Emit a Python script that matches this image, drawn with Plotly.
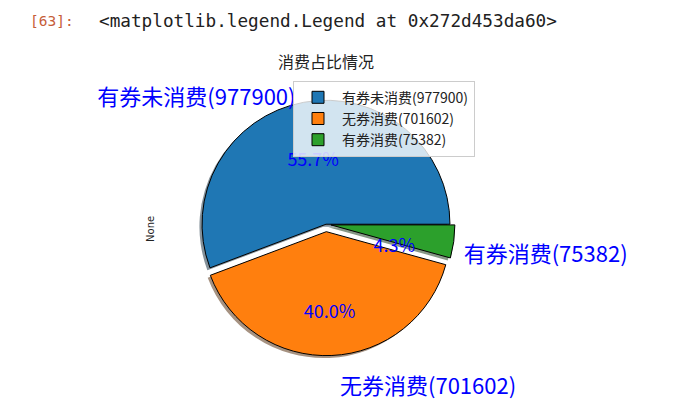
import plotly.graph_objects as go

# 消费类型与人数
categories = ["有券未消费", "无券消费", "有券消费"]
counts = [977900, 701602, 75382]
colors = ["#1f77b4", "#ff7f0e", "#2ca02c"]
shadow_colors = ["rgba(9,36,54,0.5)", "rgba(77,38,4,0.5)", "rgba(13,48,13,0.5)"]
explode = [0, 0.06, 0.04]

labels = [f"{c}({n})" for c, n in zip(categories, counts)]

# 页面 body 有 8px 边距，坐标按截图像素换算
W, H, OFF = 676, 420, 8
FW, FH = W - OFF, H - OFF


def px(x, y):
    return (x - OFF) / FW, 1 - (y - OFF) / FH


cx, cy = 326, 240
R = 133        # 主饼半径
R_IN = 154     # 大块百分比（饼内文字）所用透明饼
R_OUT = 50     # 小块百分比（饼外文字）所用透明饼


def pie_domain(radius, pull, dx=0, dy=0):
    half = radius * (1 + max(pull))
    x0, y0 = px(cx - half + dx, cy + half + dy)
    x1, y1 = px(cx + half + dx, cy - half + dy)
    return dict(x=[x0, x1], y=[y0, y1])


def scaled(pull, radius):
    return [p * R / radius for p in pull]


# 第一块从 3 点钟方向开始逆时针
rotation = 90 - 360 * counts[0] / sum(counts)

common = dict(
    labels=labels,
    values=counts,
    sort=False,
    direction="counterclockwise",
    rotation=rotation,
)
clear = dict(colors=["rgba(0,0,0,0)"] * 3, line=dict(width=0))
pct_font = dict(color="blue", size=18, family="Noto Sans CJK SC")

fig = go.Figure()

# 阴影
fig.add_trace(go.Pie(
    **common, pull=explode,
    domain=pie_domain(R, explode, -2.6, 2.6),
    marker=dict(colors=shadow_colors, line=dict(width=0)),
    textinfo="none", hoverinfo="skip", showlegend=False,
))

# 主饼
fig.add_trace(go.Pie(
    **common, pull=explode,
    domain=pie_domain(R, explode),
    marker=dict(colors=colors, line=dict(color="black", width=1)),
    textinfo="none",
    showlegend=True,
))

# 百分比：大块
pull_in = scaled(explode, R_IN)
fig.add_trace(go.Pie(
    **common, pull=pull_in,
    domain=pie_domain(R_IN, pull_in, 0, 5),
    marker=clear,
    texttemplate="%{percent:.1%}",
    textposition=["inside", "inside", "none"],
    insidetextorientation="horizontal",
    insidetextfont=pct_font,
    hoverinfo="skip", showlegend=False,
))

# 百分比：小块
pull_out = scaled(explode, R_OUT)
fig.add_trace(go.Pie(
    **common, pull=pull_out,
    domain=pie_domain(R_OUT, pull_out, -10, 14),
    marker=clear,
    texttemplate="%{percent:.1%}",
    textposition=["none", "none", "outside"],
    outsidetextfont=pct_font,
    hoverinfo="skip", showlegend=False,
))

# 外部标签
fig.add_trace(go.Pie(
    **common, pull=explode,
    domain=pie_domain(R + 2, explode, 0, 11),
    marker=clear,
    texttemplate="%{label}",
    textposition="outside",
    outsidetextfont=dict(color="blue", size=22, family="Noto Sans CJK SC"),
    hoverinfo="skip", showlegend=False,
))

x0, y0 = px(28, 22)
fig.add_annotation(
    x=x0, y=y0, xref="paper", yref="paper",
    xanchor="left", yanchor="middle", showarrow=False,
    text="[63]:",
    font=dict(family="DejaVu Sans Mono", size=14.5, color="#c65d39"),
)
x0, y0 = px(97, 22)
fig.add_annotation(
    x=x0, y=y0, xref="paper", yref="paper",
    xanchor="left", yanchor="middle", showarrow=False,
    text="<matplotlib.legend.Legend at 0x272d453da60>",
    font=dict(family="DejaVu Sans Mono", size=17.7, color="#212121"),
)
x0, y0 = px(cx, 65)
fig.add_annotation(
    x=x0, y=y0, xref="paper", yref="paper",
    xanchor="center", yanchor="middle",
    showarrow=False, text="消费占比情况",
    font=dict(family="Noto Sans CJK SC", size=16, color="#222"),
)
x0, y0 = px(151, 245)
fig.add_annotation(
    x=x0, y=y0, xref="paper", yref="paper",
    xanchor="center", yanchor="middle",
    showarrow=False, text="None", textangle=-90,
    font=dict(family="DejaVu Sans", size=10, color="#222"),
)

lx, ly = px(293, 86)
fig.update_layout(
    width=FW, height=FH,
    margin=dict(l=0, r=0, t=0, b=0),
    paper_bgcolor="white",
    legend=dict(
        x=lx, y=ly, xanchor="left", yanchor="top",
        bgcolor="rgba(255,255,255,0.8)", bordercolor="#cccccc", borderwidth=1,
        font=dict(family="Noto Sans CJK SC", size=14, color="#222"),
        itemwidth=38,
        tracegroupgap=0,
    ),
)

fig.write_html("out.html")
